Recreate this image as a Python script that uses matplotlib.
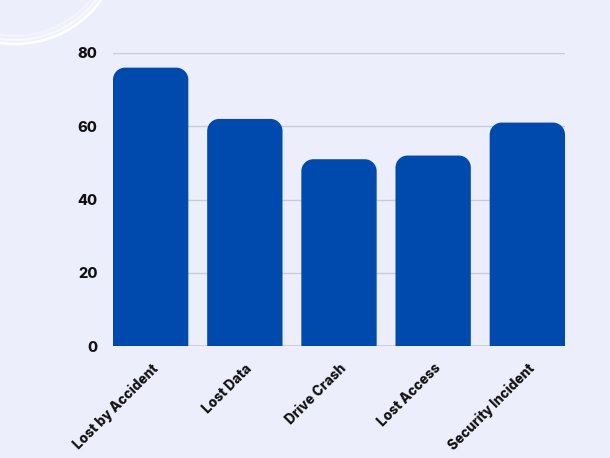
import matplotlib
matplotlib.use("Agg")
import matplotlib.pyplot as plt
from matplotlib.path import Path
from matplotlib.patches import PathPatch, Circle

categories = ["Lost by Accident", "Lost Data", "Drive Crash", "Lost Access", "Security Incident"]
values = [76, 62, 51, 52, 61]
yticks = [0, 20, 40, 60, 80]

BG = "#ECEEFC"
BAR = "#004AAD"
GRID = "#C9CBDA"

plt.rcParams['font.family'] = ['Inter', 'DejaVu Sans']

fig = plt.figure(figsize=(6.1, 4.58), dpi=100, facecolor=BG)
ax = fig.add_axes([113/610, 1-346/458, (565-113)/610, (346-53)/458])
ax.set_facecolor(BG)

# decorative circles (pixel coordinates)
for r, a in [(106, 0.95), (102, 0.6), (98, 0.35)]:
    c = Circle((15, 458+62), r, transform=None, fill=False, edgecolor="white", lw=2, alpha=a)
    fig.patches.append(c)

x = list(range(len(categories)))
bars = ax.bar(x, values, width=0.8, color=BAR, zorder=3)
ax.set_xlim(-0.4, len(categories)-0.6)
ax.set_ylim(0, 80)

fig.canvas.draw()
# rounded top corners
r_px = 12
sx = ax.transData.transform((1, 0))[0] - ax.transData.transform((0, 0))[0]
sy = ax.transData.transform((0, 1))[1] - ax.transData.transform((0, 0))[1]
rx, ry = r_px / sx, r_px / sy
k = 0.5523
for b in bars:
    x0, y0, w, h = b.get_x(), b.get_y(), b.get_width(), b.get_height()
    x1, y1 = x0 + w, y0 + h
    verts = [(x0, y0), (x0, y1 - ry),
             (x0, y1 - ry + k*ry), (x0 + rx - k*rx, y1), (x0 + rx, y1),
             (x1 - rx, y1),
             (x1 - rx + k*rx, y1), (x1, y1 - ry + k*ry), (x1, y1 - ry),
             (x1, y0), (x0, y0)]
    codes = [Path.MOVETO, Path.LINETO,
             Path.CURVE4, Path.CURVE4, Path.CURVE4,
             Path.LINETO,
             Path.CURVE4, Path.CURVE4, Path.CURVE4,
             Path.LINETO, Path.CLOSEPOLY]
    ax.add_patch(PathPatch(Path(verts, codes), facecolor=BAR, edgecolor="none", zorder=3))
    b.set_visible(False)

ax.set_yticks(yticks)
ax.set_yticklabels([str(t) for t in yticks], fontsize=10.5, fontweight=800, color="#111111")
ax.grid(axis="y", color=GRID, lw=1, zorder=0)
ax.tick_params(axis="both", length=0)
ax.tick_params(axis="y", pad=11)
ax.set_xticks(x)
ax.set_xticklabels(categories, rotation=45, ha="right", rotation_mode="anchor",
                   fontsize=9.8, fontweight=800, color="#111111")
ax.tick_params(axis="x", pad=11)
for s in ax.spines.values():
    s.set_visible(False)
ax.axhline(0, color=GRID, lw=1.2, zorder=2)

fig.savefig("out.png", dpi=100, facecolor=BG)
